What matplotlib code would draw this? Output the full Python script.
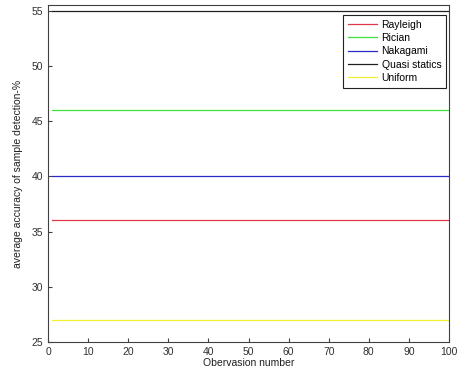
import numpy as np
import matplotlib
matplotlib.use("Agg")
import matplotlib.pyplot as plt

plt.rcParams['font.family'] = ['Liberation Sans', 'DejaVu Sans']

obs = np.arange(1, 101)
names = ['Rayleigh', 'Rician', 'Nakagami', 'Quasi statics', 'Uniform']
levels = [36, 46, 40, 55, 27]
colors = ['#e03848', '#3ee03e', '#2a2ac8', '#202020', '#f4f032']

fig = plt.figure(figsize=(4.74, 3.74), dpi=100)
ax = fig.add_axes([48/474, 32/374, 401/474, 337/374])

for name, lev, col in zip(names, levels, colors):
    ax.plot(obs, np.full(obs.shape, lev), color=col, lw=0.9, label=name)

ax.set_xlim(0, 100)
ax.set_ylim(25, 55.5)
ax.set_xticks(np.arange(0, 101, 10))
ax.set_yticks(np.arange(25, 56, 5))
ax.tick_params(direction='in', labelsize=7.5, length=3, top=False, right=False,
               labelcolor='#303030', color='#404040')
for s in ax.spines.values():
    s.set_color('#404040')
ax.set_xlabel('Obervasion number', fontsize=7.5, labelpad=1, color='#202020')
ax.set_ylabel('average accuracy of sample detection-%', fontsize=7.5, labelpad=6,
              color='#202020')

leg = ax.legend(loc='upper right', bbox_to_anchor=(0.9925, 0.970),
                borderaxespad=0, fontsize=7.5, fancybox=False, framealpha=1,
                edgecolor='#202020', handlelength=2.8, handletextpad=0.45,
                labelspacing=0.32, borderpad=0.45)
leg.get_frame().set_linewidth(0.8)

fig.savefig('out.png', dpi=100)
